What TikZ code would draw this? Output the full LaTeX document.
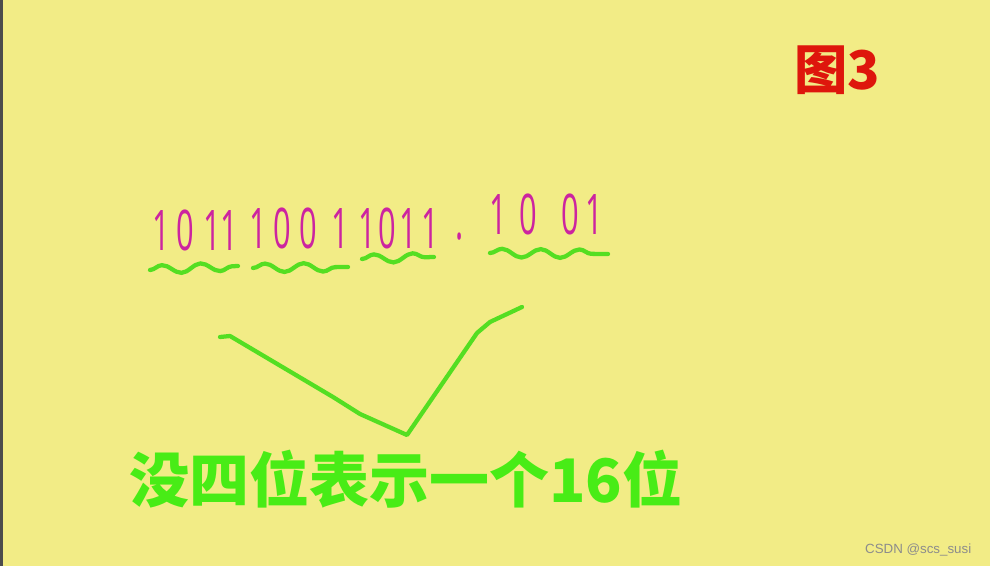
\documentclass[tikz,border=0pt]{standalone}
\usepackage{fontspec}
\usetikzlibrary{decorations.pathmorphing}
\newfontfamily\cjk{Noto Sans CJK SC}
\newfontfamily\hand{Open Sans}
\setmainfont{Liberation Sans}
\definecolor{paper}{RGB}{242,236,134}
\definecolor{ink}{RGB}{204,36,160}
\definecolor{marker}{RGB}{84,222,34}
\definecolor{label}{RGB}{72,236,22}
\definecolor{title}{RGB}{222,22,12}
\begin{document}
\begin{tikzpicture}[x=0.75pt,y=-0.75pt,
    digit/.style={anchor=base,inner sep=0pt,text=ink,xscale=0.55,
        font=\hand\fontsize{42}{42}\selectfont},
    wavy/.style={marker,line width=3.2pt,line cap=round,decorate,
        decoration={snake,amplitude=3.2pt,segment length=29pt}},
    stroke/.style={marker,line width=3.2pt,line cap=round,line join=round}]
    % Paper
    \fill [paper] (0,0) rectangle (990,566);
    \fill [black!70] (0,0) rectangle (3,566);

    % Title
    \node [text=title,font=\cjk\bfseries\fontsize{40}{40}\selectfont]
        (fig) at (837,70) {图3};

    % Binary digits
    \foreach \d/\x/\y [count=\i] in {1/161/251,0/185/251,1/212/251,1/229/251,
        1/258/249,0/282/249,0/308/249,1/340/249,
        1/367/249,0/387/249,1/408/249,1/430/249,
        1/498/235,0/528/235,0/570/235,1/594/235}
        \node [digit] (d\i) at (\x,\y) {\d};
    \node [digit] (dot) at (460,240) {.};

    % Group marks
    \coordinate (u1a) at (150,270);
    \coordinate (u1b) at (238,266);
    \coordinate (u2a) at (253,268);
    \coordinate (u2b) at (348,267);
    \coordinate (u3a) at (362,259);
    \coordinate (u3b) at (434,257);
    \coordinate (u4a) at (490,253);
    \coordinate (u4b) at (608,254);
    \draw [wavy] (u1a) -- (u1b);
    \draw [wavy] (u2a) -- (u2b);
    \draw [wavy] (u3a) -- (u3b);
    \draw [wavy] (u4a) -- (u4b);

    % Tick stroke
    \coordinate (v1) at (220,337);
    \coordinate (v2) at (230,336);
    \coordinate (v3) at (333,397);
    \coordinate (v4) at (360,414);
    \coordinate (v5) at (407,435);
    \coordinate (v6) at (477,333);
    \coordinate (v7) at (490,322);
    \coordinate (v8) at (522,307);
    \draw [stroke] (v1) -- (v2) -- (v3) -- (v4) -- (v5) -- (v6) -- (v7) -- (v8);

    % Caption
    \node [text=label,font=\cjk\bfseries\fontsize{45}{45}\selectfont]
        (caption) at (406,479) {没四位表示一个16位};

    % Watermark
    \node [text=black!45,font=\fontsize{10}{10}\selectfont,anchor=base east]
        (mark) at (976,554) {CSDN @scs\_susi};
\end{tikzpicture}
\end{document}
